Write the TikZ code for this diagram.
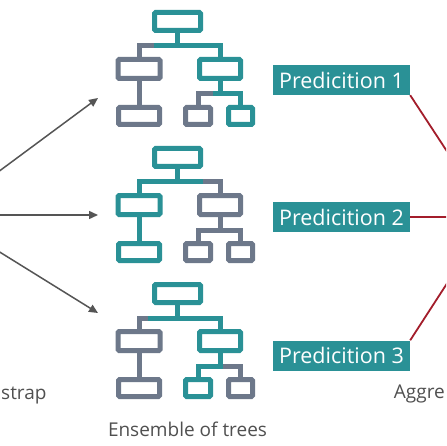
\documentclass[tikz,border=0pt]{standalone}
\usepackage{fontspec}
\setmainfont{Open Sans}
\usetikzlibrary{arrows.meta}
\definecolor{tealc}{HTML}{2A9196}
\definecolor{grayc}{HTML}{6D788A}
\definecolor{arrc}{HTML}{555555}
\definecolor{redc}{HTML}{A31D2B}
\definecolor{labc}{HTML}{505050}
\tikzset{
  tbox/.style={draw, line width=5pt, rounded corners=1.2pt, inner sep=0pt, outer sep=0pt},
  tline/.style={line width=5pt, line join=miter},
  predbox/.style={fill=tealc, text=white, inner sep=0pt, minimum width=137pt, minimum height=30pt, font=\fontsize{21.5}{24}\selectfont},
  lab/.style={text=labc, inner sep=0pt, font=\fontsize{19}{22}\selectfont},
  boot/.style={draw=arrc, line width=1.5pt, -{Triangle[length=9pt,width=8pt]}},
  agg/.style={draw=redc, line width=1.8pt},
}
% #1 yshift, #2 left colour, #3 bar split x, #4 right colour, #5 sub-bar split x, #6 small-left colour, #7 small-right colour, #8 prefix
\newcommand\treeicon[8]{%
\begin{scope}[shift={(0,#1)}]
  \node[tbox, draw=tealc, minimum width=46pt, minimum height=18pt] (#8top) at (177.5,21.5) {};
  \node[tbox, draw=#2, minimum width=42pt, minimum height=19pt] (#8lm) at (139,69) {};
  \node[tbox, draw=#2, minimum width=41pt, minimum height=17pt] (#8lb) at (139,116) {};
  \node[tbox, draw=#4, minimum width=41pt, minimum height=19pt] (#8rm) at (220,69) {};
  \node[tbox, draw=#6, minimum width=25pt, minimum height=17pt] (#8sl) at (198,116) {};
  \node[tbox, draw=#7, minimum width=24pt, minimum height=17pt] (#8sr) at (240.5,116) {};
  \coordinate (#8j) at (177.5,46);
  \coordinate (#8k) at (#3,46);
  \coordinate (#8m) at (220,94);
  \coordinate (#8n) at (#5,94);
  \draw[tline, tealc] (#8top.south) -- (#8j);
  \draw[tline, #2] (#8lm.north) |- (#8k);
  \draw[tline, #4] (#8k) -| (#8rm.north);
  \draw[tline, #2] (#8lm.south) -- (#8lb.north);
  \draw[tline, #4] (#8rm.south) -- (#8m);
  \draw[tline, #6] (#8sl.north) |- (#8n);
  \draw[tline, #7] (#8n) -| (#8sr.north);
\end{scope}}
\begin{document}
\begin{tikzpicture}[x=1pt, y=-1pt]
\useasboundingbox (0,0) rectangle (446,446);
\clip (0,0) rectangle (446,446);
\fill[white] (0,0) rectangle (446,446);

\treeicon{0}{grayc}{154}{tealc}{213}{grayc}{tealc}{ta}
\treeicon{136}{tealc}{203}{grayc}{213}{grayc}{grayc}{tb}
\treeicon{272}{grayc}{148}{tealc}{223}{tealc}{grayc}{tc}

\node[lab, anchor=base] (ens) at (187.5,436) {Ensemble of trees};
\node[lab, anchor=base west] (bs) at (1,399) {strap};
\node[lab, anchor=base east] (ag) at (445,398) {Aggre};

\node[predbox] (p1) at (341.5,80) {Predicition 1};
\node[predbox] (p2) at (341.5,217) {Predicition 2};
\node[predbox] (p3) at (341.5,355.5) {Predicition 3};

\coordinate (src) at (-60,215);
\coordinate (e1) at (98,98);
\coordinate (e2) at (98,215);
\coordinate (e3) at (98,313);
\draw[boot] (src) -- (e1);
\draw[boot] (src) -- (e2);
\draw[boot] (src) -- (e3);

\coordinate (aggpt) at (490,217);
\draw[agg] (p1.south east) -- (aggpt);
\draw[agg] (p2.east) -- (aggpt);
\draw[agg] (p3.north east) -- (aggpt);
\end{tikzpicture}
\end{document}
